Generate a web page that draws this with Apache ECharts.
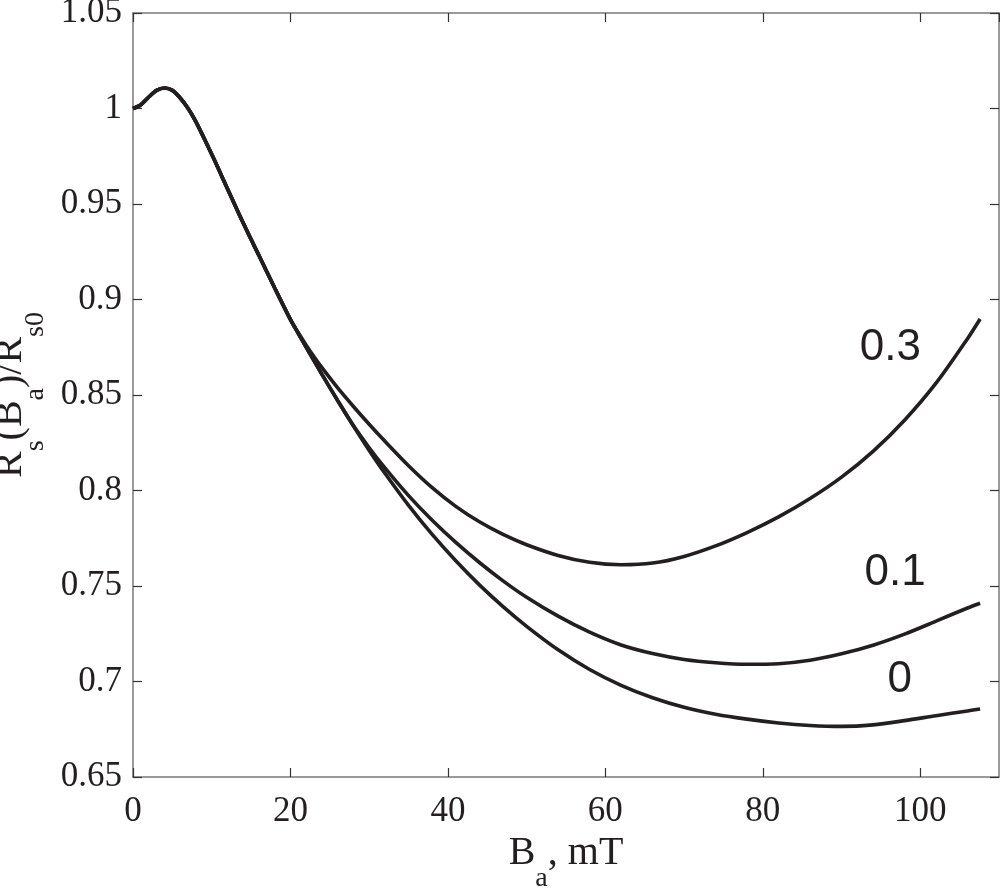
<!DOCTYPE html>
<html>
<head>
<meta charset="utf-8">
<script src="https://cdn.jsdelivr.net/npm/echarts@6/dist/echarts.min.js"></script>
<style>
html,body{margin:0;padding:0;background:#fff;}
#chart{width:1000px;height:889px;}
</style>
</head>
<body>
<div id="chart"></div>
<script>
// Applied field B_a (mT)
const fieldB = [0,1,2,3,4,5,6,7,8,10,12,14,16,18,20,21,22,23,24,26,28,30,32,35,38,41,44,47,50,54,58,62,66,70,74,78,82,86,90,94,98,102,106,107.6];
// Curve parameter labels
const curveNames = ['0', '0.1', '0.3'];
// Rs(Ba)/Rs0 for each curve
const ratio0 = [1.000,1.002,1.006,1.0095,1.0107,1.0095,1.0055,1.000,0.993,0.976,0.958,0.940,0.923,0.906,
  0.8895,0.8822,0.8750,0.8679,0.8608,0.8470,0.8337,0.8210,0.8090,0.7922,0.7770,0.7632,0.7506,0.7392,0.7289,0.7166,0.7063,0.6980,
  0.6915,0.6865,0.6829,0.6803,0.6783,0.6770,0.6765,0.6773,0.6795,0.6821,0.6846,0.6856];
const ratio01 = [1.000,1.002,1.006,1.0095,1.0107,1.0095,1.0055,1.000,0.993,0.976,0.958,0.940,0.923,0.906,
  0.8895,0.8822,0.8750,0.8679,0.8608,0.8472,0.8340,0.8224,0.8118,0.7973,0.7844,0.7728,0.7623,0.7527,0.7441,0.7342,0.7258,0.7191,
  0.7146,0.7115,0.7098,0.7090,0.7093,0.7111,0.7145,0.7190,0.7248,0.7316,0.7385,0.7410];
const ratio03 = [1.000,1.002,1.006,1.0095,1.0107,1.0095,1.0055,1.000,0.993,0.976,0.958,0.940,0.923,0.906,
  0.8895,0.8826,0.8761,0.8700,0.8643,0.8537,0.8440,0.8347,0.8258,0.8130,0.8015,0.7917,0.7836,0.7770,0.7716,0.7660,0.7624,0.7611,
  0.7620,0.7655,0.7710,0.7780,0.7862,0.7958,0.8070,0.8205,0.8368,0.8562,0.8795,0.8898];
// Tick settings
const xTicks = {min: 0, max: 110, interval: 20};
const yTicks = {min: 0.65, max: 1.05, interval: 0.05};

const seriesData = [ratio0, ratio01, ratio03];
const labelAnchors = [[97.4, 0.7008], [96.8, 0.7567], [96.2, 0.8746]];

const serif = "'Liberation Serif','Times New Roman',serif";
const sans = "'Liberation Sans',Arial,sans-serif";
const lineCol = '#231f20';
const axisCol = '#7a7a7a';

const rich = {
  m: {fontFamily: serif, fontSize: 40, color: '#231f20', lineHeight: 42, verticalAlign: 'top'},
  s: {fontFamily: serif, fontSize: 28, color: '#231f20', lineHeight: 90}
};

function baseAxis(extra) {
  return Object.assign({
    type: 'value',
    axisLine: {show: true, onZero: false, lineStyle: {color: axisCol, width: 1.5}},
    axisTick: {show: true, inside: true, length: 9, lineStyle: {color: '#333', width: 1.2}},
    splitLine: {show: false}
  }, extra);
}

const chart = echarts.init(document.getElementById('chart'), null, {renderer: 'canvas'});
chart.setOption({
  backgroundColor: '#ffffff',
  animation: false,
  grid: {left: 133, right: 1, top: 13, bottom: 112, containLabel: false, outerBoundsMode: 'none'},
  xAxis: [
    baseAxis({
      position: 'bottom', min: xTicks.min, max: xTicks.max, interval: xTicks.interval,
      axisLabel: {show: true, margin: 17, fontFamily: serif, fontSize: 35, color: '#231f20', showMaxLabel: false},
      name: '{m|B}{s|a}{m|, mT}', nameLocation: 'middle', nameGap: 56,
      nameTextStyle: {rich: rich}
    }),
    baseAxis({
      position: 'top', min: xTicks.min, max: xTicks.max, interval: xTicks.interval,
      axisLabel: {show: false}
    })
  ],
  yAxis: [
    baseAxis({
      position: 'left', min: yTicks.min, max: yTicks.max, interval: yTicks.interval,
      axisLabel: {show: true, margin: 11, fontFamily: serif, fontSize: 35, color: '#231f20',
        formatter: v => String(+v.toFixed(2))},
      name: '{m|R}{s|s}{m|(B}{s|a}{m|)/R}{s|s0}', nameLocation: 'middle', nameGap: 49,
      nameTextStyle: {rich: rich}
    }),
    baseAxis({
      position: 'right', min: yTicks.min, max: yTicks.max, interval: yTicks.interval,
      axisLabel: {show: false}
    })
  ],
  series: seriesData.map((arr, i) => ({
    type: 'line',
    name: curveNames[i],
    xAxisIndex: 0,
    yAxisIndex: 0,
    data: fieldB.map((b, k) => [b, arr[k]]),
    showSymbol: false,
    smooth: 0.3,
    lineStyle: {color: lineCol, width: 3.6},
    markPoint: {
      symbol: 'circle',
      symbolSize: 0,
      data: [{coord: labelAnchors[i], value: curveNames[i]}],
      label: {show: true, position: 'inside', formatter: curveNames[i],
        fontFamily: sans, fontSize: 44, color: '#231f20'}
    }
  }))
});
</script>
</body>
</html>
